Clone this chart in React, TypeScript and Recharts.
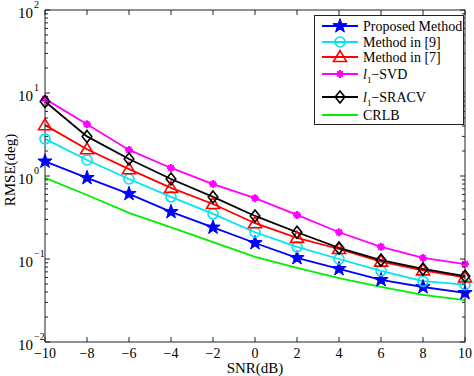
import React from 'react';
import { LineChart, Line, XAxis, YAxis, Legend } from 'recharts';

const snr = [-10, -8, -6, -4, -2, 0, 2, 4, 6, 8, 10];
const proposed = [1.5, 0.95, 0.61, 0.37, 0.24, 0.156, 0.103, 0.076, 0.056, 0.046, 0.039];
const method9 = [2.8, 1.56, 0.92, 0.56, 0.35, 0.21, 0.14, 0.1, 0.072, 0.054, 0.049];
const method7 = [4.1, 2.1, 1.21, 0.72, 0.46, 0.27, 0.18, 0.132, 0.093, 0.073, 0.06];
const l1svd = [8.5, 4.2, 2.06, 1.25, 0.8, 0.54, 0.34, 0.21, 0.14, 0.103, 0.087];
const l1sracv = [7.9, 3.0, 1.6, 0.92, 0.56, 0.33, 0.21, 0.136, 0.097, 0.076, 0.062];
const crlb = [0.95, 0.59, 0.36, 0.24, 0.16, 0.106, 0.078, 0.059, 0.046, 0.037, 0.032];

const xTicks = [-10, -8, -6, -4, -2, 0, 2, 4, 6, 8, 10];
const decades = [-2, -1, 0, 1];
const yTicks: number[] = [];
decades.forEach((e) => {
  for (let m = 1; m <= 9; m++) yTicks.push(Number((m * Math.pow(10, e)).toPrecision(3)));
});
yTicks.push(100);

const seriesNames = ['Proposed Method', 'Method in [9]', 'Method in [7]', 'l1−SVD', 'l1−SRACV', 'CRLB'];
const seriesKeys = ['proposed', 'method9', 'method7', 'l1svd', 'l1sracv', 'crlb'];
const seriesColors = ['#0000ff', '#00e5ee', '#ff0000', '#ff00ff', '#000000', '#00ee00'];
const seriesMarkers = ['star', 'circle', 'triangle', 'asterisk', 'diamond', 'none'];

const data = snr.map((s, i) => ({
  snr: s,
  proposed: proposed[i],
  method9: method9[i],
  method7: method7[i],
  l1svd: l1svd[i],
  l1sracv: l1sracv[i],
  crlb: crlb[i],
}));

const FONT = '"Liberation Serif", "Times New Roman", serif';
const AX = '#222';

function Marker({ kind, cx, cy, color }: { kind: string; cx: number; cy: number; color: string }) {
  if (kind === 'star') {
    const R = 7.5, r = 3;
    const pts: string[] = [];
    for (let k = 0; k < 10; k++) {
      const rad = k % 2 === 0 ? R : r;
      const a = -Math.PI / 2 + (k * Math.PI) / 5;
      pts.push(`${cx + rad * Math.cos(a)},${cy + rad * Math.sin(a)}`);
    }
    return <polygon points={pts.join(' ')} fill={color} stroke={color} strokeWidth={1} />;
  }
  if (kind === 'circle') {
    return <circle cx={cx} cy={cy} r={5} fill="none" stroke={color} strokeWidth={1.6} />;
  }
  if (kind === 'triangle') {
    const s = 6.5;
    return (
      <polygon
        points={`${cx},${cy - s} ${cx - s},${cy + s * 0.7} ${cx + s},${cy + s * 0.7}`}
        fill="none"
        stroke={color}
        strokeWidth={1.6}
      />
    );
  }
  if (kind === 'diamond') {
    const s = 6;
    return (
      <polygon
        points={`${cx},${cy - s} ${cx + s * 0.8},${cy} ${cx},${cy + s} ${cx - s * 0.8},${cy}`}
        fill="none"
        stroke={color}
        strokeWidth={1.6}
      />
    );
  }
  if (kind === 'asterisk') {
    const s = 4;
    return (
      <g stroke={color} strokeWidth={2}>
        <line x1={cx - s} y1={cy} x2={cx + s} y2={cy} />
        <line x1={cx} y1={cy - s} x2={cx} y2={cy + s} />
        <line x1={cx - s * 0.7} y1={cy - s * 0.7} x2={cx + s * 0.7} y2={cy + s * 0.7} />
        <line x1={cx - s * 0.7} y1={cy + s * 0.7} x2={cx + s * 0.7} y2={cy - s * 0.7} />
        <circle cx={cx} cy={cy} r={2.5} fill={color} stroke="none" />
      </g>
    );
  }
  return null;
}

const makeDot = (kind: string, color: string) => (p: any) => {
  if (p.cx == null || p.cy == null) return <g key={p.index} />;
  return (
    <g key={`${kind}-${p.index}`}>
      <Marker kind={kind} cx={p.cx} cy={p.cy} color={color} />
    </g>
  );
};

const isMajor = (v: number) => Math.abs(Math.log10(v) - Math.round(Math.log10(v))) < 1e-6;

const LeftTick = (props: any) => {
  const { x, y, payload } = props;
  const v = payload.value;
  const major = isMajor(v);
  const e = Math.round(Math.log10(v));
  return (
    <g>
      <line x1={x} x2={x + (major ? 5 : 3)} y1={y} y2={y} stroke={AX} strokeWidth={1} />
      {major && (
        <>
          <text x={x - 12} y={y + 8} textAnchor="end" fontSize={15} fontFamily={FONT} fill="#000">
            10
          </text>
          <text x={x - 11} y={y - 2.5} textAnchor="start" fontSize={10} fontFamily={FONT} fill="#000">
            {e < 0 ? `−${-e}` : `${e}`}
          </text>
        </>
      )}
    </g>
  );
};

const RightTick = (props: any) => {
  const { x, y, payload } = props;
  const major = isMajor(payload.value);
  return <line x1={x} x2={x - (major ? 5 : 3)} y1={y} y2={y} stroke={AX} strokeWidth={1} />;
};

const BottomTick = (props: any) => {
  const { x, y, payload } = props;
  const v = payload.value;
  return (
    <g>
      <line x1={x} x2={x} y1={y} y2={y - 5} stroke={AX} strokeWidth={1} />
      <text x={x} y={y + 15.5} textAnchor="middle" fontSize={14} fontFamily={FONT} fill="#000">
        {v < 0 ? `−${-v}` : `${v}`}
      </text>
    </g>
  );
};

const TopTick = (props: any) => {
  const { x, y } = props;
  return <line x1={x} x2={x} y1={y} y2={y + 5} stroke={AX} strokeWidth={1} />;
};

function LegendLabel({ name }: { name: string }) {
  if (name.startsWith('l1')) {
    return (
      <>
        <tspan fontStyle="italic">l</tspan>
        <tspan fontSize={9} dy={4}>1</tspan>
        <tspan dy={-4}>{name.slice(2)}</tspan>
      </>
    );
  }
  return <>{name}</>;
}

const legendRows = [11, 27, 42, 59, 82, 100];

const renderLegend = () => (
  <svg width={150} height={110} style={{ display: 'block' }}>
    <rect x={0.5} y={0.5} width={149} height={109} fill="#fff" stroke={AX} strokeWidth={1} />
    {seriesNames.map((name, i) => (
      <g key={name}>
        <line x1={8} x2={44} y1={legendRows[i]} y2={legendRows[i]} stroke={seriesColors[i]} strokeWidth={1.8} />
        <Marker kind={seriesMarkers[i]} cx={26} cy={legendRows[i]} color={seriesColors[i]} />
        <text x={49} y={legendRows[i] + 5} fontSize={14} fontFamily={FONT} fill="#000">
          <LegendLabel name={name} />
        </text>
      </g>
    ))}
  </svg>
);

export default function App() {
  return (
    <div style={{ width: 474, height: 376, background: '#fff', position: 'absolute', left: 0, top: 0 }}>
      <LineChart width={474} height={376} data={data} margin={{ top: 9, right: 8, bottom: 0, left: 0 }}>
        <XAxis
          dataKey="snr"
          type="number"
          domain={[-10, 10]}
          ticks={xTicks}
          interval={0}
          height={34}
          tickSize={0}
          tickMargin={0}
          stroke={AX}
          tick={BottomTick}
          label={{ value: 'SNR(dB)', position: 'insideBottom', offset: 3, fontSize: 15, fill: '#000', fontFamily: FONT }}
        />
        <XAxis
          xAxisId="top"
          orientation="top"
          dataKey="snr"
          type="number"
          domain={[-10, 10]}
          ticks={xTicks}
          interval={0}
          height={1}
          tickSize={0}
          tickMargin={0}
          stroke={AX}
          tick={TopTick}
        />
        <YAxis
          type="number"
          scale="log"
          domain={[0.01, 100]}
          allowDataOverflow
          ticks={yTicks}
          interval={0}
          width={45}
          tickSize={0}
          tickMargin={0}
          stroke={AX}
          tick={LeftTick}
          label={{
            content: (p: any) => {
              const vb = p.viewBox || { x: 0, y: 10, width: 45, height: 332 };
              const cx = 10;
              const cy = vb.y + vb.height / 2 - 6;
              return (
                <text
                  x={cx}
                  y={cy}
                  transform={`rotate(-90 ${cx} ${cy})`}
                  textAnchor="middle"
                  dominantBaseline="central"
                  fontSize={15}
                  fontFamily={FONT}
                  fill="#000"
                >
                  RMSE(deg)
                </text>
              );
            },
          }}
        />
        <YAxis
          yAxisId="right"
          orientation="right"
          type="number"
          scale="log"
          domain={[0.01, 100]}
          allowDataOverflow
          ticks={yTicks}
          interval={0}
          width={1}
          tickSize={0}
          tickMargin={0}
          stroke={AX}
          tick={RightTick}
        />
        <Legend
          content={renderLegend}
          layout="vertical"
          verticalAlign="middle"
          align="center"
          wrapperStyle={{ position: 'absolute', top: 15, left: 314, width: 150, height: 110 }}
        />
        {seriesKeys.map((k, i) => (
          <Line
            key={k}
            dataKey={k}
            name={seriesNames[i]}
            stroke={seriesColors[i]}
            strokeWidth={1.8}
            isAnimationActive={false}
            dot={seriesMarkers[i] === 'none' ? false : makeDot(seriesMarkers[i], seriesColors[i])}
            activeDot={false}
          />
        ))}
      </LineChart>
    </div>
  );
}
